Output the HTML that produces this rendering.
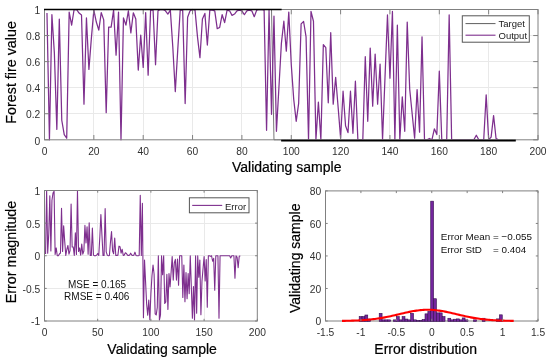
<!DOCTYPE html>
<html><head><meta charset="utf-8"><title>Forest fire validation</title>
<style>html,body{margin:0;padding:0;background:#fff}body{width:550px;height:361px;overflow:hidden}</style></head>
<body>
<svg width="550" height="361" viewBox="0 0 550 361" style="display:block" font-family="'Liberation Sans', Arial, sans-serif">
<rect width="550" height="361" fill="#fff"/>
<g shape-rendering="crispEdges">
<line x1="93.85" y1="9.5" x2="93.85" y2="139.8" stroke="#e9e9e9" stroke-width="1"/>
<line x1="143.20" y1="9.5" x2="143.20" y2="139.8" stroke="#e9e9e9" stroke-width="1"/>
<line x1="192.55" y1="9.5" x2="192.55" y2="139.8" stroke="#e9e9e9" stroke-width="1"/>
<line x1="241.90" y1="9.5" x2="241.90" y2="139.8" stroke="#e9e9e9" stroke-width="1"/>
<line x1="291.25" y1="9.5" x2="291.25" y2="139.8" stroke="#e9e9e9" stroke-width="1"/>
<line x1="340.60" y1="9.5" x2="340.60" y2="139.8" stroke="#e9e9e9" stroke-width="1"/>
<line x1="389.95" y1="9.5" x2="389.95" y2="139.8" stroke="#e9e9e9" stroke-width="1"/>
<line x1="439.30" y1="9.5" x2="439.30" y2="139.8" stroke="#e9e9e9" stroke-width="1"/>
<line x1="488.65" y1="9.5" x2="488.65" y2="139.8" stroke="#e9e9e9" stroke-width="1"/>
<line x1="44.5" y1="113.74" x2="538.0" y2="113.74" stroke="#e9e9e9" stroke-width="1"/>
<line x1="44.5" y1="87.68" x2="538.0" y2="87.68" stroke="#e9e9e9" stroke-width="1"/>
<line x1="44.5" y1="61.62" x2="538.0" y2="61.62" stroke="#e9e9e9" stroke-width="1"/>
<line x1="44.5" y1="35.56" x2="538.0" y2="35.56" stroke="#e9e9e9" stroke-width="1"/>
</g>
<polyline points="46.97,9.50 49.44,9.50 51.90,9.50 54.37,9.50 56.84,9.50 59.30,9.50 61.77,9.50 64.24,9.50 66.71,9.50 69.17,9.50 71.64,9.50 74.11,9.50 76.58,9.50 79.05,9.50 81.51,9.50 83.98,9.50 86.45,9.50 88.91,9.50 91.38,9.50 93.85,9.50 96.32,9.50 98.78,9.50 101.25,9.50 103.72,9.50 106.19,9.50 108.66,9.50 111.12,9.50 113.59,9.50 116.06,9.50 118.53,9.50 120.99,9.50 123.46,9.50 125.93,9.50 128.39,9.50 130.86,9.50 133.33,9.50 135.80,9.50 138.26,9.50 140.73,9.50 143.20,9.50 145.67,9.50 148.13,9.50 150.60,9.50 153.07,9.50 155.54,9.50 158.00,9.50 160.47,9.50 162.94,9.50 165.41,9.50 167.88,9.50 170.34,9.50 172.81,9.50 175.28,9.50 177.75,9.50 180.21,9.50 182.68,9.50 185.15,9.50 187.62,9.50 190.08,9.50 192.55,9.50 195.02,9.50 197.49,9.50 199.95,9.50 202.42,9.50 204.89,9.50 207.35,9.50 209.82,9.50 212.29,9.50 214.76,9.50 217.22,9.50 219.69,9.50 222.16,9.50 224.63,9.50 227.09,9.50 229.56,9.50 232.03,9.50 234.50,9.50 236.97,9.50 239.43,9.50 241.90,9.50 244.37,9.50 246.84,9.50 249.30,9.50 251.77,9.50 254.24,9.50 256.71,9.50 259.17,9.50 261.64,9.50 264.11,9.50 266.57,9.50 269.04,9.50 271.51,9.50 273.98,139.80 276.44,139.80 278.91,139.80 281.38,139.80 283.85,139.80 286.31,139.80 288.78,139.80 291.25,139.80 293.72,139.80 296.19,139.80 298.65,139.80 301.12,139.80 303.59,139.80 306.06,139.80 308.52,139.80 310.99,139.80 313.46,139.80 315.93,139.80 318.39,139.80 320.86,139.80 323.33,139.80 325.80,139.80 328.26,139.80 330.73,139.80 333.20,139.80 335.67,139.80 338.13,139.80 340.60,139.80 343.07,139.80 345.54,139.80 348.00,139.80 350.47,139.80 352.94,139.80 355.40,139.80 357.87,139.80 360.34,139.80 362.81,139.80 365.27,139.80 367.74,139.80 370.21,139.80 372.68,139.80 375.14,139.80 377.61,139.80 380.08,139.80 382.55,139.80 385.01,139.80 387.48,139.80 389.95,139.80 392.42,139.80 394.88,139.80 397.35,139.80 399.82,139.80 402.29,139.80 404.75,139.80 407.22,139.80 409.69,139.80 412.16,139.80 414.62,139.80 417.09,139.80 419.56,139.80 422.03,139.80 424.50,139.80 426.96,139.80 429.43,139.80 431.90,139.80 434.37,139.80 436.83,139.80 439.30,139.80 441.77,139.80 444.24,139.80 446.70,139.80 449.17,139.80 451.64,139.80 454.11,139.80 456.57,139.80 459.04,139.80 461.51,139.80 463.98,139.80 466.44,139.80 468.91,139.80 471.38,139.80 473.85,139.80 476.31,139.80 478.78,139.80 481.25,139.80 483.71,139.80 486.18,139.80 488.65,139.80 491.12,139.80 493.58,139.80 496.05,139.80 498.52,139.80 500.99,139.80 503.45,139.80 505.92,139.80 508.39,139.80 510.86,139.80 513.33,139.80 515.79,139.80" fill="none" stroke="#555" stroke-width="0.8"/>
<polyline points="46.97,13.02 49.44,139.80 51.90,14.71 54.37,53.15 56.84,129.38 59.30,19.01 61.77,120.26 64.24,134.59 66.71,138.24 69.17,12.11 71.64,25.14 74.11,9.50 76.58,9.50 79.05,13.02 81.51,14.97 83.98,104.23 86.45,17.97 88.91,69.44 91.38,38.17 93.85,10.15 96.32,22.01 98.78,30.09 101.25,12.63 103.72,19.92 106.19,112.70 108.66,27.09 111.12,27.09 113.59,10.15 116.06,55.11 118.53,12.11 120.99,139.80 123.46,17.97 125.93,25.14 128.39,10.80 130.86,32.95 133.33,12.76 135.80,19.01 138.26,70.09 140.73,35.04 143.20,67.48 145.67,12.63 148.13,75.17 150.60,10.02 153.07,10.02 155.54,64.75 158.00,10.80 160.47,9.50 162.94,9.50 165.41,10.80 167.88,14.06 170.34,10.15 172.81,47.29 175.28,91.59 177.75,49.89 180.21,10.15 182.68,10.15 185.15,103.58 187.62,17.32 190.08,10.80 192.55,9.50 195.02,10.15 197.49,36.86 199.95,57.71 202.42,19.01 204.89,13.41 207.35,45.07 209.82,10.15 212.29,10.15 214.76,10.80 217.22,28.65 219.69,27.48 222.16,14.71 224.63,22.53 227.09,10.15 229.56,10.80 232.03,15.36 234.50,14.06 236.97,10.80 239.43,10.15 241.90,10.80 244.37,14.71 246.84,10.80 249.30,10.15 251.77,10.80 254.24,16.67 256.71,10.15 259.17,9.50 261.64,9.50 264.11,10.15 266.57,130.29 269.04,10.15 271.51,114.26 273.98,16.02 276.44,131.33 278.91,87.68 281.38,43.38 283.85,21.23 286.31,51.20 288.78,12.11 291.25,64.23 293.72,99.41 296.19,121.30 298.65,103.32 301.12,23.83 303.59,21.49 306.06,36.86 308.52,139.80 310.99,11.45 313.46,21.23 315.93,139.80 318.39,102.01 320.86,139.80 323.33,44.68 325.80,47.55 328.26,102.79 330.73,32.69 333.20,104.23 335.67,77.26 338.13,107.23 340.60,138.24 343.07,91.20 345.54,125.73 348.00,132.63 350.47,91.20 352.94,133.29 355.40,81.17 357.87,139.80 360.34,139.80 362.81,139.80 365.27,56.67 367.74,121.30 370.21,48.07 372.68,106.18 375.14,54.06 377.61,104.23 380.08,64.23 382.55,139.80 385.01,77.26 387.48,14.97 389.95,78.17 392.42,11.45 394.88,139.80 397.35,25.14 399.82,139.80 402.29,96.80 404.75,131.33 407.22,22.01 409.69,88.98 412.16,113.74 414.62,138.24 417.09,89.63 419.56,132.24 422.03,36.86 424.50,139.80 426.96,139.80 429.43,138.50 431.90,139.80 434.37,128.85 436.83,134.59 439.30,71.13 441.77,139.80 444.24,139.80 446.70,139.80 449.17,14.97 451.64,139.80 454.11,139.80 456.57,139.80 459.04,139.80 461.51,139.80 463.98,139.80 466.44,139.80 468.91,139.80 471.38,139.80 473.85,139.80 476.31,135.24 478.78,139.80 481.25,139.80 483.71,139.80 486.18,94.85 488.65,139.80 491.12,137.19 493.58,115.69 496.05,138.50 498.52,139.80" fill="none" stroke="#7E2F8E" stroke-width="1.25" stroke-linejoin="round"/>
<rect x="44.5" y="9.5" width="493.5" height="130.3" fill="none" stroke="#808080" stroke-width="1"/>
<line x1="44.50" y1="139.8" x2="44.50" y2="135.0" stroke="#808080"/><line x1="44.50" y1="9.5" x2="44.50" y2="14.3" stroke="#808080"/>
<text x="44.50" y="155.3" font-size="10.25" fill="#303030" text-anchor="middle">0</text>
<line x1="93.85" y1="139.8" x2="93.85" y2="135.0" stroke="#808080"/><line x1="93.85" y1="9.5" x2="93.85" y2="14.3" stroke="#808080"/>
<text x="93.85" y="155.3" font-size="10.25" fill="#303030" text-anchor="middle">20</text>
<line x1="143.20" y1="139.8" x2="143.20" y2="135.0" stroke="#808080"/><line x1="143.20" y1="9.5" x2="143.20" y2="14.3" stroke="#808080"/>
<text x="143.20" y="155.3" font-size="10.25" fill="#303030" text-anchor="middle">40</text>
<line x1="192.55" y1="139.8" x2="192.55" y2="135.0" stroke="#808080"/><line x1="192.55" y1="9.5" x2="192.55" y2="14.3" stroke="#808080"/>
<text x="192.55" y="155.3" font-size="10.25" fill="#303030" text-anchor="middle">60</text>
<line x1="241.90" y1="139.8" x2="241.90" y2="135.0" stroke="#808080"/><line x1="241.90" y1="9.5" x2="241.90" y2="14.3" stroke="#808080"/>
<text x="241.90" y="155.3" font-size="10.25" fill="#303030" text-anchor="middle">80</text>
<line x1="291.25" y1="139.8" x2="291.25" y2="135.0" stroke="#808080"/><line x1="291.25" y1="9.5" x2="291.25" y2="14.3" stroke="#808080"/>
<text x="291.25" y="155.3" font-size="10.25" fill="#303030" text-anchor="middle">100</text>
<line x1="340.60" y1="139.8" x2="340.60" y2="135.0" stroke="#808080"/><line x1="340.60" y1="9.5" x2="340.60" y2="14.3" stroke="#808080"/>
<text x="340.60" y="155.3" font-size="10.25" fill="#303030" text-anchor="middle">120</text>
<line x1="389.95" y1="139.8" x2="389.95" y2="135.0" stroke="#808080"/><line x1="389.95" y1="9.5" x2="389.95" y2="14.3" stroke="#808080"/>
<text x="389.95" y="155.3" font-size="10.25" fill="#303030" text-anchor="middle">140</text>
<line x1="439.30" y1="139.8" x2="439.30" y2="135.0" stroke="#808080"/><line x1="439.30" y1="9.5" x2="439.30" y2="14.3" stroke="#808080"/>
<text x="439.30" y="155.3" font-size="10.25" fill="#303030" text-anchor="middle">160</text>
<line x1="488.65" y1="139.8" x2="488.65" y2="135.0" stroke="#808080"/><line x1="488.65" y1="9.5" x2="488.65" y2="14.3" stroke="#808080"/>
<text x="488.65" y="155.3" font-size="10.25" fill="#303030" text-anchor="middle">180</text>
<line x1="538.00" y1="139.8" x2="538.00" y2="135.0" stroke="#808080"/><line x1="538.00" y1="9.5" x2="538.00" y2="14.3" stroke="#808080"/>
<text x="538.00" y="155.3" font-size="10.25" fill="#303030" text-anchor="middle">200</text>
<line x1="44.5" y1="139.80" x2="49.3" y2="139.80" stroke="#808080"/><line x1="538.0" y1="139.80" x2="533.2" y2="139.80" stroke="#808080"/>
<text x="40.2" y="144.50" font-size="10.25" fill="#303030" text-anchor="end">0</text>
<line x1="44.5" y1="113.74" x2="49.3" y2="113.74" stroke="#808080"/><line x1="538.0" y1="113.74" x2="533.2" y2="113.74" stroke="#808080"/>
<text x="40.2" y="118.44" font-size="10.25" fill="#303030" text-anchor="end">0.2</text>
<line x1="44.5" y1="87.68" x2="49.3" y2="87.68" stroke="#808080"/><line x1="538.0" y1="87.68" x2="533.2" y2="87.68" stroke="#808080"/>
<text x="40.2" y="92.38" font-size="10.25" fill="#303030" text-anchor="end">0.4</text>
<line x1="44.5" y1="61.62" x2="49.3" y2="61.62" stroke="#808080"/><line x1="538.0" y1="61.62" x2="533.2" y2="61.62" stroke="#808080"/>
<text x="40.2" y="66.32" font-size="10.25" fill="#303030" text-anchor="end">0.6</text>
<line x1="44.5" y1="35.56" x2="49.3" y2="35.56" stroke="#808080"/><line x1="538.0" y1="35.56" x2="533.2" y2="35.56" stroke="#808080"/>
<text x="40.2" y="40.26" font-size="10.25" fill="#303030" text-anchor="end">0.8</text>
<line x1="44.5" y1="9.50" x2="49.3" y2="9.50" stroke="#808080"/><line x1="538.0" y1="9.50" x2="533.2" y2="9.50" stroke="#808080"/>
<text x="40.2" y="14.20" font-size="10.25" fill="#303030" text-anchor="end">1</text>
<text x="286.7" y="171.5" font-size="14" fill="#000" stroke="#000" stroke-width="0.2" text-anchor="middle">Validating sample</text>
<text transform="translate(16.3,72.4) rotate(-90)" font-size="14.3" fill="#000" stroke="#000" stroke-width="0.2" text-anchor="middle">Forest fire value</text>
<line x1="44.0" y1="9.5" x2="281.63" y2="9.5" stroke="#000" stroke-width="1.6"/>
<line x1="281.13" y1="140.60000000000002" x2="515.79" y2="140.60000000000002" stroke="#000" stroke-width="1.6"/>
<rect x="462.3" y="15.8" width="67" height="26.4" fill="#fff" stroke="#555" stroke-width="1"/>
<line x1="465.5" y1="23.6" x2="495.5" y2="23.6" stroke="#333" stroke-width="0.8"/>
<line x1="465.5" y1="35.2" x2="495.5" y2="35.2" stroke="#7E2F8E" stroke-width="1.1"/>
<text x="498.5" y="27" font-size="9.5" fill="#1a1a1a">Target</text>
<text x="498.5" y="38.6" font-size="9.5" fill="#1a1a1a">Output</text>
<g shape-rendering="crispEdges">
<line x1="97.70" y1="190.5" x2="97.70" y2="321.0" stroke="#e9e9e9" stroke-width="1"/>
<line x1="150.90" y1="190.5" x2="150.90" y2="321.0" stroke="#e9e9e9" stroke-width="1"/>
<line x1="204.10" y1="190.5" x2="204.10" y2="321.0" stroke="#e9e9e9" stroke-width="1"/>
<line x1="44.5" y1="288.38" x2="257.3" y2="288.38" stroke="#e9e9e9" stroke-width="1"/>
<line x1="44.5" y1="255.75" x2="257.3" y2="255.75" stroke="#e9e9e9" stroke-width="1"/>
<line x1="44.5" y1="223.12" x2="257.3" y2="223.12" stroke="#e9e9e9" stroke-width="1"/>
</g>
<polyline points="45.56,253.99 46.63,190.50 47.69,253.14 48.76,233.89 49.82,195.72 50.88,250.99 51.95,200.29 53.01,193.11 54.08,191.28 55.14,254.44 56.20,247.92 57.27,255.75 58.33,255.75 59.40,253.99 60.46,253.01 61.52,208.31 62.59,251.51 63.65,225.74 64.72,241.39 65.78,255.42 66.84,249.49 67.91,245.44 68.97,254.18 70.04,250.53 71.10,204.07 72.16,246.94 73.23,246.94 74.29,255.42 75.36,232.91 76.42,254.44 77.48,190.50 78.55,251.51 79.61,247.92 80.68,255.10 81.74,244.00 82.80,254.12 83.87,250.99 84.93,225.41 86.00,242.96 87.06,226.71 88.12,254.18 89.19,222.86 90.25,255.49 91.32,255.49 92.38,228.08 93.44,255.10 94.51,255.75 95.57,255.75 96.64,255.10 97.70,253.47 98.76,255.42 99.83,236.83 100.89,214.64 101.96,235.52 103.02,255.42 104.08,255.42 105.15,208.64 106.21,251.83 107.28,255.10 108.34,255.75 109.40,255.42 110.47,242.05 111.53,231.61 112.60,250.99 113.66,253.79 114.72,237.94 115.79,255.42 116.85,255.42 117.92,255.10 118.98,246.16 120.04,246.75 121.11,253.14 122.17,249.22 123.24,255.42 124.30,255.10 125.36,252.81 126.43,253.47 127.49,255.10 128.56,255.42 129.62,255.10 130.68,253.14 131.75,255.10 132.81,255.42 133.88,255.10 134.94,252.16 136.00,255.42 137.07,255.75 138.13,255.75 139.20,255.42 140.26,195.26 141.32,255.42 142.39,203.29 143.45,317.74 144.52,259.99 145.58,281.85 146.64,304.04 147.71,315.13 148.77,300.12 149.84,319.69 150.90,293.60 151.96,275.98 153.03,265.02 154.09,274.02 155.16,313.82 156.22,315.00 157.28,307.30 158.35,255.75 159.41,320.02 160.48,315.13 161.54,255.75 162.60,274.67 163.67,255.75 164.73,303.38 165.80,301.95 166.86,274.28 167.92,309.39 168.99,273.56 170.05,287.07 171.12,272.06 172.18,256.53 173.24,280.09 174.31,262.80 175.37,259.34 176.44,280.09 177.50,259.01 178.56,285.11 179.63,255.75 180.69,255.75 181.76,255.75 182.82,297.38 183.88,265.02 184.95,301.69 186.01,272.58 187.08,298.68 188.14,273.56 189.20,293.60 190.27,255.75 191.33,287.07 192.40,318.26 193.46,286.61 194.52,320.02 195.59,255.75 196.65,313.17 197.72,255.75 198.78,277.28 199.84,259.99 200.91,314.74 201.97,281.20 203.04,268.80 204.10,256.53 205.16,280.87 206.23,259.53 207.29,307.30 208.36,255.75 209.42,255.75 210.48,256.40 211.55,255.75 212.61,261.23 213.68,258.36 214.74,290.14 215.80,255.75 216.87,255.75 217.93,255.75 219.00,318.26 220.06,255.75 221.12,255.75 222.19,255.75 223.25,255.75 224.32,255.75 225.38,255.75 226.44,255.75 227.51,255.75 228.57,255.75 229.64,255.75 230.70,258.03 231.76,255.75 232.83,255.75 233.89,255.75 234.96,278.26 236.02,255.75 237.08,257.06 238.15,267.82 239.21,256.40 240.28,255.75" fill="none" stroke="#7E2F8E" stroke-width="1.1" stroke-linejoin="round"/>
<rect x="44.5" y="190.5" width="212.8" height="130.5" fill="none" stroke="#808080" stroke-width="1"/>
<line x1="44.50" y1="321.0" x2="44.50" y2="318.8" stroke="#808080"/><line x1="44.50" y1="190.5" x2="44.50" y2="192.7" stroke="#808080"/>
<text x="44.50" y="336.2" font-size="10.25" fill="#303030" text-anchor="middle">0</text>
<line x1="97.70" y1="321.0" x2="97.70" y2="318.8" stroke="#808080"/><line x1="97.70" y1="190.5" x2="97.70" y2="192.7" stroke="#808080"/>
<text x="97.70" y="336.2" font-size="10.25" fill="#303030" text-anchor="middle">50</text>
<line x1="150.90" y1="321.0" x2="150.90" y2="318.8" stroke="#808080"/><line x1="150.90" y1="190.5" x2="150.90" y2="192.7" stroke="#808080"/>
<text x="150.90" y="336.2" font-size="10.25" fill="#303030" text-anchor="middle">100</text>
<line x1="204.10" y1="321.0" x2="204.10" y2="318.8" stroke="#808080"/><line x1="204.10" y1="190.5" x2="204.10" y2="192.7" stroke="#808080"/>
<text x="204.10" y="336.2" font-size="10.25" fill="#303030" text-anchor="middle">150</text>
<line x1="257.30" y1="321.0" x2="257.30" y2="318.8" stroke="#808080"/><line x1="257.30" y1="190.5" x2="257.30" y2="192.7" stroke="#808080"/>
<text x="257.30" y="336.2" font-size="10.25" fill="#303030" text-anchor="middle">200</text>
<line x1="44.5" y1="321.00" x2="46.7" y2="321.00" stroke="#808080"/><line x1="257.3" y1="321.00" x2="255.10000000000002" y2="321.00" stroke="#808080"/>
<text x="40.2" y="325.40" font-size="10.25" fill="#303030" text-anchor="end">-1</text>
<line x1="44.5" y1="288.38" x2="46.7" y2="288.38" stroke="#808080"/><line x1="257.3" y1="288.38" x2="255.10000000000002" y2="288.38" stroke="#808080"/>
<text x="40.2" y="292.77" font-size="10.25" fill="#303030" text-anchor="end">-0.5</text>
<line x1="44.5" y1="255.75" x2="46.7" y2="255.75" stroke="#808080"/><line x1="257.3" y1="255.75" x2="255.10000000000002" y2="255.75" stroke="#808080"/>
<text x="40.2" y="260.15" font-size="10.25" fill="#303030" text-anchor="end">0</text>
<line x1="44.5" y1="223.12" x2="46.7" y2="223.12" stroke="#808080"/><line x1="257.3" y1="223.12" x2="255.10000000000002" y2="223.12" stroke="#808080"/>
<text x="40.2" y="227.53" font-size="10.25" fill="#303030" text-anchor="end">0.5</text>
<line x1="44.5" y1="190.50" x2="46.7" y2="190.50" stroke="#808080"/><line x1="257.3" y1="190.50" x2="255.10000000000002" y2="190.50" stroke="#808080"/>
<text x="40.2" y="194.90" font-size="10.25" fill="#303030" text-anchor="end">1</text>
<text x="162.1" y="353.6" font-size="14" fill="#000" stroke="#000" stroke-width="0.2" text-anchor="middle">Validating sample</text>
<text transform="translate(16.3,252) rotate(-90)" font-size="14.3" fill="#000" stroke="#000" stroke-width="0.2" text-anchor="middle">Error magnitude</text>
<rect x="189.4" y="197.8" width="59.6" height="15" fill="#fff" stroke="#555" stroke-width="1"/>
<line x1="192.2" y1="205.4" x2="222.2" y2="205.4" stroke="#7E2F8E" stroke-width="1.1"/>
<text x="225" y="209.6" font-size="9.5" fill="#1a1a1a">Error</text>
<text x="68" y="287.8" font-size="10" fill="#111">MSE = 0.165</text>
<text x="64.1" y="300" font-size="10" fill="#111">RMSE = 0.406</text>
<rect x="325.5" y="190.9" width="212.5" height="130.1" fill="none" stroke="#808080" stroke-width="1"/>
<g>
<rect x="359.18" y="316.62" width="2.86" height="4.78" fill="#74259E" stroke="#35104f" stroke-width="0.6"/>
<rect x="362.04" y="316.62" width="2.86" height="4.78" fill="#74259E" stroke="#35104f" stroke-width="0.6"/>
<rect x="364.90" y="315.00" width="2.86" height="6.40" fill="#74259E" stroke="#35104f" stroke-width="0.6"/>
<rect x="367.77" y="319.06" width="2.86" height="2.34" fill="#74259E" stroke="#35104f" stroke-width="0.6"/>
<rect x="379.21" y="313.37" width="2.86" height="8.03" fill="#74259E" stroke="#35104f" stroke-width="0.6"/>
<rect x="382.07" y="319.87" width="2.86" height="1.53" fill="#74259E" stroke="#35104f" stroke-width="0.6"/>
<rect x="384.94" y="319.87" width="2.86" height="1.53" fill="#74259E" stroke="#35104f" stroke-width="0.6"/>
<rect x="387.80" y="319.87" width="2.86" height="1.53" fill="#74259E" stroke="#35104f" stroke-width="0.6"/>
<rect x="393.52" y="319.87" width="2.86" height="1.53" fill="#74259E" stroke="#35104f" stroke-width="0.6"/>
<rect x="396.38" y="316.62" width="2.86" height="4.78" fill="#74259E" stroke="#35104f" stroke-width="0.6"/>
<rect x="399.24" y="319.87" width="2.86" height="1.53" fill="#74259E" stroke="#35104f" stroke-width="0.6"/>
<rect x="402.11" y="316.62" width="2.86" height="4.78" fill="#74259E" stroke="#35104f" stroke-width="0.6"/>
<rect x="404.97" y="319.06" width="2.86" height="2.34" fill="#74259E" stroke="#35104f" stroke-width="0.6"/>
<rect x="407.83" y="319.87" width="2.86" height="1.53" fill="#74259E" stroke="#35104f" stroke-width="0.6"/>
<rect x="410.69" y="313.37" width="2.86" height="8.03" fill="#74259E" stroke="#35104f" stroke-width="0.6"/>
<rect x="413.55" y="319.87" width="2.86" height="1.53" fill="#74259E" stroke="#35104f" stroke-width="0.6"/>
<rect x="416.41" y="320.36" width="2.86" height="1.04" fill="#74259E" stroke="#35104f" stroke-width="0.6"/>
<rect x="419.28" y="320.36" width="2.86" height="1.04" fill="#74259E" stroke="#35104f" stroke-width="0.6"/>
<rect x="422.14" y="319.55" width="2.86" height="1.85" fill="#74259E" stroke="#35104f" stroke-width="0.6"/>
<rect x="425.00" y="313.86" width="2.86" height="7.54" fill="#74259E" stroke="#35104f" stroke-width="0.6"/>
<rect x="427.86" y="311.42" width="2.86" height="9.98" fill="#74259E" stroke="#35104f" stroke-width="0.6"/>
<rect x="430.72" y="201.16" width="2.86" height="120.24" fill="#74259E" stroke="#35104f" stroke-width="0.6"/>
<rect x="433.58" y="298.73" width="2.86" height="22.67" fill="#74259E" stroke="#35104f" stroke-width="0.6"/>
<rect x="436.45" y="312.88" width="2.86" height="8.52" fill="#74259E" stroke="#35104f" stroke-width="0.6"/>
<rect x="439.31" y="312.88" width="2.86" height="8.52" fill="#74259E" stroke="#35104f" stroke-width="0.6"/>
<rect x="442.17" y="316.62" width="2.86" height="4.78" fill="#74259E" stroke="#35104f" stroke-width="0.6"/>
<rect x="447.89" y="318.25" width="2.86" height="3.15" fill="#74259E" stroke="#35104f" stroke-width="0.6"/>
<rect x="450.75" y="319.87" width="2.86" height="1.53" fill="#74259E" stroke="#35104f" stroke-width="0.6"/>
<rect x="453.62" y="319.22" width="2.86" height="2.18" fill="#74259E" stroke="#35104f" stroke-width="0.6"/>
<rect x="456.48" y="318.90" width="2.86" height="2.50" fill="#74259E" stroke="#35104f" stroke-width="0.6"/>
<rect x="459.34" y="319.87" width="2.86" height="1.53" fill="#74259E" stroke="#35104f" stroke-width="0.6"/>
<rect x="462.20" y="317.92" width="2.86" height="3.48" fill="#74259E" stroke="#35104f" stroke-width="0.6"/>
<rect x="465.06" y="319.87" width="2.86" height="1.53" fill="#74259E" stroke="#35104f" stroke-width="0.6"/>
<rect x="473.65" y="319.87" width="2.86" height="1.53" fill="#74259E" stroke="#35104f" stroke-width="0.6"/>
<rect x="482.23" y="318.25" width="2.86" height="3.15" fill="#74259E" stroke="#35104f" stroke-width="0.6"/>
<rect x="496.54" y="318.90" width="2.86" height="2.50" fill="#74259E" stroke="#35104f" stroke-width="0.6"/>
<rect x="499.40" y="314.83" width="2.86" height="6.57" fill="#74259E" stroke="#35104f" stroke-width="0.6"/>
</g>
<polyline points="342.00,320.88 343.44,320.86 344.87,320.83 346.30,320.81 347.73,320.78 349.16,320.74 350.59,320.71 352.02,320.66 353.45,320.62 354.88,320.56 356.31,320.51 357.74,320.44 359.17,320.37 360.61,320.29 362.04,320.20 363.47,320.11 364.90,320.00 366.33,319.89 367.76,319.76 369.19,319.63 370.62,319.48 372.05,319.32 373.48,319.15 374.91,318.97 376.34,318.78 377.77,318.57 379.21,318.35 380.64,318.12 382.07,317.87 383.50,317.62 384.93,317.35 386.36,317.07 387.79,316.78 389.22,316.48 390.65,316.17 392.08,315.85 393.51,315.53 394.94,315.20 396.38,314.86 397.81,314.52 399.24,314.18 400.67,313.84 402.10,313.50 403.53,313.17 404.96,312.84 406.39,312.51 407.82,312.20 409.25,311.90 410.68,311.61 412.12,311.34 413.55,311.08 414.98,310.84 416.41,310.62 417.84,310.43 419.27,310.25 420.70,310.10 422.13,309.98 423.56,309.88 424.99,309.81 426.42,309.77 427.85,309.76 429.29,309.77 430.72,309.81 432.15,309.88 433.58,309.98 435.01,310.10 436.44,310.25 437.87,310.43 439.30,310.62 440.73,310.84 442.16,311.08 443.59,311.34 445.02,311.61 446.45,311.90 447.89,312.20 449.32,312.51 450.75,312.84 452.18,313.17 453.61,313.50 455.04,313.84 456.47,314.18 457.90,314.52 459.33,314.86 460.76,315.20 462.19,315.53 463.62,315.85 465.06,316.17 466.49,316.48 467.92,316.78 469.35,317.07 470.78,317.35 472.21,317.62 473.64,317.87 475.07,318.12 476.50,318.35 477.93,318.57 479.36,318.78 480.80,318.97 482.23,319.15 483.66,319.32 485.09,319.48 486.52,319.63 487.95,319.76 489.38,319.89 490.81,320.00 492.24,320.11 493.67,320.20 495.10,320.29 496.53,320.37 497.97,320.44 499.40,320.51 500.83,320.56 502.26,320.62 503.69,320.66 505.12,320.71 506.55,320.74 507.98,320.78 509.41,320.81 510.84,320.83 512.27,320.86 513.70,320.88" fill="none" stroke="#F00" stroke-width="2.1" stroke-linecap="butt"/>
<line x1="325.50" y1="321.0" x2="325.50" y2="318.8" stroke="#808080"/><line x1="325.50" y1="190.9" x2="325.50" y2="193.1" stroke="#808080"/>
<text x="325.50" y="336.2" font-size="10.25" fill="#303030" text-anchor="middle">-1.5</text>
<line x1="360.92" y1="321.0" x2="360.92" y2="318.8" stroke="#808080"/><line x1="360.92" y1="190.9" x2="360.92" y2="193.1" stroke="#808080"/>
<text x="360.92" y="336.2" font-size="10.25" fill="#303030" text-anchor="middle">-1</text>
<line x1="396.33" y1="321.0" x2="396.33" y2="318.8" stroke="#808080"/><line x1="396.33" y1="190.9" x2="396.33" y2="193.1" stroke="#808080"/>
<text x="396.33" y="336.2" font-size="10.25" fill="#303030" text-anchor="middle">-0.5</text>
<line x1="431.75" y1="321.0" x2="431.75" y2="318.8" stroke="#808080"/><line x1="431.75" y1="190.9" x2="431.75" y2="193.1" stroke="#808080"/>
<text x="431.75" y="336.2" font-size="10.25" fill="#303030" text-anchor="middle">0</text>
<line x1="467.17" y1="321.0" x2="467.17" y2="318.8" stroke="#808080"/><line x1="467.17" y1="190.9" x2="467.17" y2="193.1" stroke="#808080"/>
<text x="467.17" y="336.2" font-size="10.25" fill="#303030" text-anchor="middle">0.5</text>
<line x1="502.58" y1="321.0" x2="502.58" y2="318.8" stroke="#808080"/><line x1="502.58" y1="190.9" x2="502.58" y2="193.1" stroke="#808080"/>
<text x="502.58" y="336.2" font-size="10.25" fill="#303030" text-anchor="middle">1</text>
<line x1="538.00" y1="321.0" x2="538.00" y2="318.8" stroke="#808080"/><line x1="538.00" y1="190.9" x2="538.00" y2="193.1" stroke="#808080"/>
<text x="538.00" y="336.2" font-size="10.25" fill="#303030" text-anchor="middle">1.5</text>
<line x1="325.5" y1="321.00" x2="327.7" y2="321.00" stroke="#808080"/><line x1="538.0" y1="321.00" x2="535.8" y2="321.00" stroke="#808080"/>
<text x="321.2" y="325.40" font-size="10.25" fill="#303030" text-anchor="end">0</text>
<line x1="325.5" y1="288.48" x2="327.7" y2="288.48" stroke="#808080"/><line x1="538.0" y1="288.48" x2="535.8" y2="288.48" stroke="#808080"/>
<text x="321.2" y="292.88" font-size="10.25" fill="#303030" text-anchor="end">20</text>
<line x1="325.5" y1="255.95" x2="327.7" y2="255.95" stroke="#808080"/><line x1="538.0" y1="255.95" x2="535.8" y2="255.95" stroke="#808080"/>
<text x="321.2" y="260.35" font-size="10.25" fill="#303030" text-anchor="end">40</text>
<line x1="325.5" y1="223.43" x2="327.7" y2="223.43" stroke="#808080"/><line x1="538.0" y1="223.43" x2="535.8" y2="223.43" stroke="#808080"/>
<text x="321.2" y="227.83" font-size="10.25" fill="#303030" text-anchor="end">60</text>
<line x1="325.5" y1="190.90" x2="327.7" y2="190.90" stroke="#808080"/><line x1="538.0" y1="190.90" x2="535.8" y2="190.90" stroke="#808080"/>
<text x="321.2" y="195.30" font-size="10.25" fill="#303030" text-anchor="end">80</text>
<text x="425.7" y="354" font-size="14" fill="#000" stroke="#000" stroke-width="0.2" text-anchor="middle">Error distribution</text>
<text transform="translate(299.5,258.3) rotate(-90)" font-size="14" fill="#000" stroke="#000" stroke-width="0.2" text-anchor="middle">Validating sample</text>
<text x="440.8" y="240" font-size="9.9" fill="#111">Error Mean = −0.055</text>
<text x="440.7" y="252.6" font-size="9.9" fill="#111">Error StD</text><text x="493" y="252.6" font-size="9.9" fill="#111">= 0.404</text>
</svg>
</body></html>
